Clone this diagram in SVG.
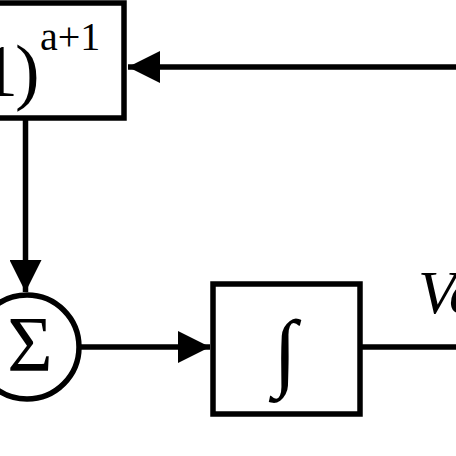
<svg xmlns="http://www.w3.org/2000/svg" width="456" height="456" viewBox="0 0 456 456">
<style>
.box{fill:#fff;stroke:#000;stroke-width:5.5}
.wire{fill:none;stroke:#000;stroke-width:5.5}
.t{font-family:"Liberation Serif","Times New Roman",serif;fill:#000}
</style>
<defs>
<marker id="ah" markerUnits="userSpaceOnUse" markerWidth="34" markerHeight="32" refX="32" refY="16" orient="auto">
<path d="M0,0 L32,16 L0,32 Z" fill="#000"/>
</marker>
</defs>
<rect width="456" height="456" fill="#fff"/>
<g id="connectors">
<line class="wire" x1="456" y1="67" x2="128" y2="67" marker-end="url(#ah)"/>
<line class="wire" x1="25.5" y1="118" x2="25.5" y2="292" marker-end="url(#ah)"/>
<line class="wire" x1="80" y1="347" x2="210" y2="347" marker-end="url(#ah)"/>
<line class="wire" x1="360" y1="347" x2="456" y2="347"/>
</g>
<g id="gain">
<rect class="box" x="-20" y="3" width="144" height="115"/>
<text class="t" x="-19" y="96" font-size="74">1<tspan dx="-3">)</tspan></text>
<text class="t" x="40" y="50" font-size="40">a+1</text>
</g>
<g id="sum">
<circle class="box" cx="27" cy="347" r="52"/>
<text class="t" x="30" y="370" font-size="78" text-anchor="middle">Σ</text>
</g>
<g id="integrator">
<rect class="box" x="213" y="284" width="147" height="130"/>
<text class="t" x="285" y="380" font-size="86" text-anchor="middle">∫</text>
</g>
<g id="output-label">
<text class="t" x="418" y="313" font-size="62" font-style="italic">Ve</text>
</g>
</svg>
